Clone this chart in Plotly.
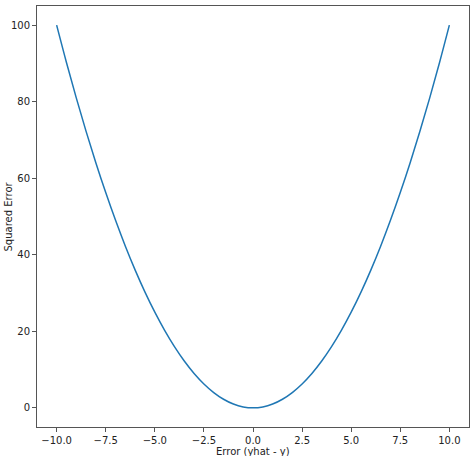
import plotly.graph_objects as go

error = [-10.0, -9.5, -9.0, -8.5, -8.0, -7.5, -7.0, -6.5, -6.0, -5.5, -5.0,
         -4.5, -4.0, -3.5, -3.0, -2.5, -2.0, -1.5, -1.0, -0.5, 0.0,
         0.5, 1.0, 1.5, 2.0, 2.5, 3.0, 3.5, 4.0, 4.5, 5.0,
         5.5, 6.0, 6.5, 7.0, 7.5, 8.0, 8.5, 9.0, 9.5, 10.0]
squared_error = [100.0, 90.25, 81.0, 72.25, 64.0, 56.25, 49.0, 42.25, 36.0, 30.25, 25.0,
                 20.25, 16.0, 12.25, 9.0, 6.25, 4.0, 2.25, 1.0, 0.25, 0.0,
                 0.25, 1.0, 2.25, 4.0, 6.25, 9.0, 12.25, 16.0, 20.25, 25.0,
                 30.25, 36.0, 42.25, 49.0, 56.25, 64.0, 72.25, 81.0, 90.25, 100.0]
x_ticks = [-10.0, -7.5, -5.0, -2.5, 0.0, 2.5, 5.0, 7.5, 10.0]
y_ticks = [0, 20, 40, 60, 80, 100]

fig = go.Figure(go.Scatter(x=error, y=squared_error, mode="lines",
                           line=dict(color="#1f77b4", width=1.5, shape="spline")))

axis_style = dict(showgrid=False, zeroline=False, showline=True, mirror=True,
                  linecolor="#555555", linewidth=1, ticks="outside", ticklen=4,
                  tickcolor="#555555", tickfont=dict(size=10, color="#222222"),
                  automargin=False)

fig.update_layout(
    width=474, height=456,
    margin=dict(l=37, r=5, t=6, b=29, autoexpand=False),
    paper_bgcolor="white", plot_bgcolor="white",
    font=dict(family="DejaVu Sans", size=10, color="#222222"),
    showlegend=False,
    xaxis=dict(range=[-11, 11], tickvals=x_ticks, tickformat=".1f", **axis_style),
    yaxis=dict(range=[-5, 105], tickvals=y_ticks, **axis_style),
    annotations=[
        dict(text="Error (yhat - y)", xref="paper", yref="paper", x=0.5, y=0,
             xanchor="center", yanchor="top", yshift=-17, showarrow=False,
             font=dict(size=10, color="#222222")),
        dict(text="Squared Error", xref="paper", x=0, xanchor="center", xshift=-29,
             yref="paper", y=0.5, yanchor="middle", textangle=-90, showarrow=False,
             font=dict(size=10, color="#222222")),
    ],
)

fig.write_html("out.html", config={"displayModeBar": False},
               post_script="document.body.style.margin='0';document.body.style.overflow='hidden';")
